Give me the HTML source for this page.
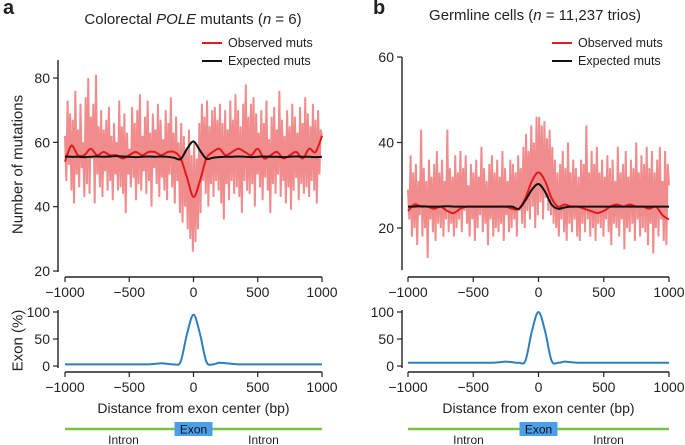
<!DOCTYPE html>
<html><head><meta charset="utf-8">
<style>
html,body{margin:0;padding:0;background:#fff;}
svg{display:block;font-family:"Liberation Sans",Arial,sans-serif;}
</style></head>
<body>
<svg id="fig" width="685" height="445" viewBox="0 0 685 445" xmlns="http://www.w3.org/2000/svg"></svg>
<script>
// ---------- data ----------
const noiseA = [62,48,73,53,69,45,67,41,76,50,64,46,72,52,60,43,74,47,80,44,68,55,72,41,81,50,65,46,70,43,64,51,67,45,71,48,62,42,66,50,60,45,73,46,65,44,69,38,63,50,
58,46,71,49,66,42,70,47,75,45,62,51,68,44,73,48,63,40,69,52,64,47,72,43,67,49,61,45,70,42,66,50,74,46,63,41,68,48,60,38,66,35,62,40,58,33,64,30,56,26,
60,29,55,33,66,38,72,48,68,44,73,40,65,47,70,43,71,48,67,45,72,41,66,36,70,47,64,42,73,48,67,44,75,46,70,43,65,38,72,48,78,45,68,44,72,47,74,40,69,50,
63,46,70,42,66,49,73,45,61,38,68,47,71,44,64,50,76,43,67,48,62,41,70,46,65,39,72,45,68,49,63,42,71,47,66,44,74,46,69,43,65,48,72,45,67,41,70,50,64,62];
const noiseB = [29,22,37,18,33,20,35,16,31,23,43,18,34,20,31,13,36,22,32,19,35,17,38,21,33,20,36,18,31,22,43,19,34,21,32,18,37,20,33,22,38,19,34,24,37,21,30,18,35,22,
33,17,36,20,32,23,39,19,34,21,31,16,35,22,37,18,33,20,36,19,32,21,38,17,34,23,31,19,36,20,35,22,33,18,37,24,34,21,39,20,42,24,38,22,44,25,40,20,46,23,
46,26,44,22,45,27,41,24,43,23,39,21,36,20,33,18,35,22,38,19,34,17,40,21,33,19,36,22,34,18,32,17,36,21,35,19,44,22,33,18,38,20,35,17,39,21,33,20,36,18,
32,22,37,19,34,16,36,21,31,20,39,18,33,22,35,15,38,20,32,19,36,21,34,17,40,22,33,18,37,20,35,19,39,16,34,21,38,14,33,20,36,18,39,22,31,17,38,16,35,30];
const observedA = [54,59,56,56,58,56,57,56,56,55,56,57,56,57,57,56,57,57,55,49,43,48,55,57,58,56,57,58,57,56,58,55,56,57,55,56,57,55,58,57,62];
const expectedA = [55.6,55.5,55.5,55.4,55.5,55.6,55.5,55.6,55.7,55.6,55.5,55.4,55.5,55.6,55.5,55.6,55.5,55.2,54.8,58,60.3,57.5,54.9,55.2,55.4,55.5,55.5,55.6,55.5,55.4,55.5,55.6,55.5,55.5,55.4,55.5,55.6,55.5,55.5,55.4,55.5];
const observedB = [24,25.5,25,25,24.5,25,24,23.5,24.5,25,25,25,25,25,25,25,24.5,24.5,27,31,33,31,27,25,25.5,25,25,24.5,24,23.5,24,25,25.5,25,25.5,25,25,24.5,25,23,22];
const expectedB = [25,25,25.1,25,25,25,25.1,25,25,25,25,25,25,25,25,25,25,24.5,26.5,29,30.3,28.5,25.5,24.5,24.8,25,25,25,25,25,25,25,25,25,25,25,25,25,25,25,25];
const exonA = [3,3,3,3,3,3,3,3,3,3,3,3,3,3,4,5,4,3,8,60,95,60,8,3,6,5,4,3,3,3,3,3,3,3,3,3,3,3,3,3,3];
const exonB = [6,6,6,6,6,6,6,6,6,6,6,6,6,6,7,8,7,6,10,65,100,65,10,6,8,7,6,6,6,6,6,6,6,6,6,6,6,6,6,6,6];
const xTicks = [-1000,-500,0,500,1000];
const xTickLabels = ["\u22121000","\u2212500","0","500","1000"];
const yTicksA = [20,40,60,80];
const yTicksB = [20,40,60];
const yTicksExon = [0,50,100];

const NS="http://www.w3.org/2000/svg";
const svg=document.getElementById('fig');
function el(tag,attrs,parent,text){const e=document.createElementNS(NS,tag);for(const k in attrs)e.setAttribute(k,attrs[k]);if(text!==undefined)e.textContent=text;(parent||svg).appendChild(e);return e;}
function smoothPath(pts){let d=`M${pts[0][0]},${pts[0][1]}`;for(let i=0;i<pts.length-1;i++){const p0=pts[Math.max(0,i-1)],p1=pts[i],p2=pts[i+1],p3=pts[Math.min(pts.length-1,i+2)];const c1=[p1[0]+(p2[0]-p0[0])/6,p1[1]+(p2[1]-p0[1])/6],c2=[p2[0]-(p3[0]-p1[0])/6,p2[1]-(p3[1]-p1[1])/6];d+=`C${c1[0]},${c1[1]} ${c2[0]},${c2[1]} ${p2[0]},${p2[1]}`;}return d;}

function panel(cfg){
  const g=el('g',{});
  
  
  const xs=v=>cfg.x0+(v+1000)/2000*(cfg.x1-cfg.x0);
  const ys=v=>cfg.yb+(v-cfg.ymin)/(cfg.ymax-cfg.ymin)*(cfg.yt-cfg.yb);
  const np=cfg.noise.map((v,i)=>`${xs(-1000+2000*i/(cfg.noise.length-1))},${ys(v)}`).join(' ');
  const nl=el('polyline',{points:np,fill:'none',stroke:'#f08c8c','stroke-width':2,'stroke-linejoin':'miter','stroke-miterlimit':2},g);
  
  
  const toPts=arr=>arr.map((v,i)=>[xs(-1000+2000*i/(arr.length-1)),ys(v)]);
  const ol=el('path',{d:smoothPath(toPts(cfg.obs)),fill:'none',stroke:'#e3191c','stroke-width':2},g);
  
  
  const el2=el('path',{d:smoothPath(toPts(cfg.exp)),fill:'none',stroke:'#111','stroke-width':2},g);
  
  
  const ya=el('g',{},g);
  
  
  el('line',{x1:cfg.ax,y1:cfg.ayt,x2:cfg.ax,y2:cfg.ayb,stroke:'#222','stroke-width':1.4},ya);
  cfg.yticks.forEach(t=>{
    el('line',{x1:cfg.ax-5,y1:ys(t),x2:cfg.ax,y2:ys(t),stroke:'#222','stroke-width':1.2},ya);
    const tl=el('text',{x:cfg.ax-8,y:ys(t)+5,'text-anchor':'end','font-size':14,fill:'#222'},ya,String(t));
    
    
  });
  xAxis(g,xs,277,cfg.x0,cfg.x1);
  const ex=v=>366+(v/100)*(312-366);
  const ep=el('path',{d:smoothPath(cfg.exon.map((v,i)=>[xs(-1000+2000*i/(cfg.exon.length-1)),ex(v)])),fill:'none',stroke:'#2d7fc0','stroke-width':2},g);
  
  
  const ea=el('g',{},g);
  
  
  el('line',{x1:cfg.ax,y1:310,x2:cfg.ax,y2:368,stroke:'#222','stroke-width':1.4},ea);
  yTicksExon.forEach(t=>{
    el('line',{x1:cfg.ax-5,y1:ex(t),x2:cfg.ax,y2:ex(t),stroke:'#222','stroke-width':1.2},ea);
    const tl=el('text',{x:cfg.ax-8,y:ex(t)+5,'text-anchor':'end','font-size':14,fill:'#222'},ea,String(t));
    
    
  });
  xAxis(g,xs,372,cfg.x0,cfg.x1);
  const xt=el('text',{x:(cfg.x0+cfg.x1)/2,y:413,'text-anchor':'middle','font-size':14,fill:'#222'},g,'Distance from exon center (bp)');
  
  
  const gd=el('g',{},g);
  
  
  el('line',{x1:cfg.x0,y1:429,x2:cfg.x1,y2:429,stroke:'#7cc242','stroke-width':2.5},gd);
  const cx=(cfg.x0+cfg.x1)/2;
  el('rect',{x:cx-19,y:422,width:38,height:14,fill:'#4a9fe8'},gd);
  el('text',{x:cx,y:433.5,'text-anchor':'middle','font-size':12,fill:'#111'},gd,'Exon');
  el('text',{x:cx-70,y:444,'text-anchor':'middle','font-size':12,fill:'#222'},gd,'Intron');
  el('text',{x:cx+70,y:444,'text-anchor':'middle','font-size':12,fill:'#222'},gd,'Intron');
  const lg=el('g',{},g);
  
  
  el('line',{x1:cfg.lx,y1:43,x2:cfg.lx+20,y2:43,stroke:'#e3191c','stroke-width':2},lg);
  el('text',{x:cfg.lx+26,y:47,'font-size':12.5,fill:'#222'},lg,'Observed muts');
  el('line',{x1:cfg.lx,y1:61,x2:cfg.lx+20,y2:61,stroke:'#111','stroke-width':2},lg);
  el('text',{x:cfg.lx+26,y:65,'font-size':12.5,fill:'#222'},lg,'Expected muts');
}
function xAxis(g,xs,y,x0,x1){
  const a=el('g',{},g);
  
  
  el('line',{x1:x0,y1:y,x2:x1,y2:y,stroke:'#222','stroke-width':1.4},a);
  xTicks.forEach((t,i)=>{
    el('line',{x1:xs(t),y1:y,x2:xs(t),y2:y+5,stroke:'#222','stroke-width':1.2},a);
    const tl=el('text',{x:xs(t),y:y+20,'text-anchor':'middle','font-size':14,fill:'#222'},a,xTickLabels[i]);
    
    
  });
}
panel({name:'panel-a',x0:65,x1:322,ymin:20,ymax:80,yb:271,yt:78,ax:58,ayt:60,ayb:272,yticks:yTicksA,noise:noiseA,obs:observedA,exp:expectedA,exon:exonA,lx:202});
panel({name:'panel-b',x0:408,x1:669,ymin:20,ymax:60,yb:228,yt:57,ax:402,ayt:57,ayb:270,yticks:yTicksB,noise:noiseB,obs:observedB,exp:expectedB,exon:exonB,lx:552});
</script>
<div style="position:absolute;left:0;top:0;width:685px;height:445px;pointer-events:none;font-family:'Liberation Sans',Arial,sans-serif;color:#222;">
  <div style="position:absolute;left:3px;top:-3px;font-size:20px;font-weight:bold;">a</div>
  <div style="position:absolute;left:373px;top:-3px;font-size:20px;font-weight:bold;">b</div>
  <div style="position:absolute;left:60px;width:266px;top:11px;text-align:center;font-size:15px;">Colorectal <i>POLE</i> mutants (<i>n</i> = 6)</div>
  <div style="position:absolute;left:400px;width:270px;top:7px;text-align:center;font-size:15px;">Germline cells (<i>n</i> = 11,237 trios)</div>
  <div style="position:absolute;left:-57px;top:156px;width:150px;text-align:center;font-size:15px;transform:rotate(-90deg);">Number of mutations</div>
  <div style="position:absolute;left:-22px;top:332px;width:80px;text-align:center;font-size:15px;transform:rotate(-90deg);">Exon (%)</div>
</div>
</body></html>
